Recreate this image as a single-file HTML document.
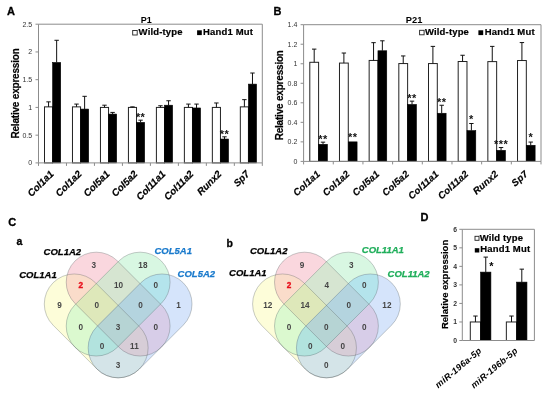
<!DOCTYPE html><html><head><meta charset="utf-8"><style>html,body{margin:0;padding:0;background:#fff;overflow:hidden}svg{display:block;will-change:transform}</style></head><body>
<svg width="550" height="396" viewBox="0 0 550 396" style="font-family:'Liberation Sans', sans-serif">
<text x="7" y="15" style="font:bold 11px 'Liberation Sans', sans-serif;fill:#000;stroke:#000;stroke-width:0.3px">A</text>
<text x="273.5" y="15" style="font:bold 11px 'Liberation Sans', sans-serif;fill:#000;stroke:#000;stroke-width:0.3px">B</text>
<text x="8.3" y="226.3" style="font:bold 11px 'Liberation Sans', sans-serif;fill:#000;stroke:#000;stroke-width:0.3px">C</text>
<text x="420.5" y="221.3" style="font:bold 11px 'Liberation Sans', sans-serif;fill:#000;stroke:#000;stroke-width:0.3px">D</text>
<text x="16.5" y="244.8" style="font:bold 10.5px 'Liberation Sans', sans-serif;fill:#000;stroke:#000;stroke-width:0.3px">a</text>
<text x="226.5" y="247.3" style="font:bold 10.5px 'Liberation Sans', sans-serif;fill:#000;stroke:#000;stroke-width:0.3px">b</text>
<path d="M38.5,24.2 H262.3 V162.9" fill="none" stroke="#8c8c8c" stroke-width="1"/>
<rect x="44.50" y="106.87" width="8.10" height="56.03" fill="#fff" stroke="#222" stroke-width="1"/>
<rect x="52.60" y="62.48" width="8.10" height="100.42" fill="#000" stroke="#000" stroke-width="0.6"/>
<path d="M48.55,106.87 V101.87 M46.35,101.87 H50.75" stroke="#111" stroke-width="1" fill="none"/>
<path d="M56.65,62.48 V40.29 M54.45,40.29 H58.85" stroke="#111" stroke-width="1" fill="none"/>
<rect x="72.47" y="106.87" width="8.10" height="56.03" fill="#fff" stroke="#222" stroke-width="1"/>
<rect x="80.57" y="109.08" width="8.10" height="53.82" fill="#000" stroke="#000" stroke-width="0.6"/>
<path d="M76.52,106.87 V104.09 M74.32,104.09 H78.72" stroke="#111" stroke-width="1" fill="none"/>
<path d="M84.62,109.08 V96.32 M82.42,96.32 H86.82" stroke="#111" stroke-width="1" fill="none"/>
<rect x="100.45" y="107.42" width="8.10" height="55.48" fill="#fff" stroke="#222" stroke-width="1"/>
<rect x="108.55" y="114.08" width="8.10" height="48.82" fill="#000" stroke="#000" stroke-width="0.6"/>
<path d="M104.50,107.42 V105.20 M102.30,105.20 H106.70" stroke="#111" stroke-width="1" fill="none"/>
<path d="M112.60,114.08 V112.41 M110.40,112.41 H114.80" stroke="#111" stroke-width="1" fill="none"/>
<rect x="128.43" y="107.42" width="8.10" height="55.48" fill="#fff" stroke="#222" stroke-width="1"/>
<rect x="136.53" y="122.40" width="8.10" height="40.50" fill="#000" stroke="#000" stroke-width="0.6"/>
<path d="M132.48,107.42 V106.87 M130.28,106.87 H134.68" stroke="#111" stroke-width="1" fill="none"/>
<path d="M140.58,122.40 V120.18 M138.38,120.18 H142.78" stroke="#111" stroke-width="1" fill="none"/>
<rect x="156.40" y="107.42" width="8.10" height="55.48" fill="#fff" stroke="#222" stroke-width="1"/>
<rect x="164.50" y="105.20" width="8.10" height="57.70" fill="#000" stroke="#000" stroke-width="0.6"/>
<path d="M160.45,107.42 V105.76 M158.25,105.76 H162.65" stroke="#111" stroke-width="1" fill="none"/>
<path d="M168.55,105.20 V100.76 M166.35,100.76 H170.75" stroke="#111" stroke-width="1" fill="none"/>
<rect x="184.38" y="107.42" width="8.10" height="55.48" fill="#fff" stroke="#222" stroke-width="1"/>
<rect x="192.47" y="107.97" width="8.10" height="54.93" fill="#000" stroke="#000" stroke-width="0.6"/>
<path d="M188.43,107.42 V104.09 M186.23,104.09 H190.62" stroke="#111" stroke-width="1" fill="none"/>
<path d="M196.53,107.97 V104.09 M194.33,104.09 H198.72" stroke="#111" stroke-width="1" fill="none"/>
<rect x="212.35" y="107.42" width="8.10" height="55.48" fill="#fff" stroke="#222" stroke-width="1"/>
<rect x="220.45" y="139.04" width="8.10" height="23.86" fill="#000" stroke="#000" stroke-width="0.6"/>
<path d="M216.40,107.42 V102.98 M214.20,102.98 H218.60" stroke="#111" stroke-width="1" fill="none"/>
<path d="M224.50,139.04 V136.82 M222.30,136.82 H226.70" stroke="#111" stroke-width="1" fill="none"/>
<rect x="240.33" y="106.87" width="8.10" height="56.03" fill="#fff" stroke="#222" stroke-width="1"/>
<rect x="248.43" y="84.12" width="8.10" height="78.78" fill="#000" stroke="#000" stroke-width="0.6"/>
<path d="M244.38,106.87 V99.65 M242.18,99.65 H246.58" stroke="#111" stroke-width="1" fill="none"/>
<path d="M252.48,84.12 V73.02 M250.28,73.02 H254.68" stroke="#111" stroke-width="1" fill="none"/>
<path d="M38.5,24.2 V162.9 H262.3" fill="none" stroke="#8c8c8c" stroke-width="1"/>
<path d="M35.5,162.90 H38.5" stroke="#8c8c8c" stroke-width="1"/>
<text x="32.2" y="165.30" text-anchor="end" style="font:7px 'Liberation Sans', sans-serif;fill:#333">0</text>
<path d="M35.5,135.16 H38.5" stroke="#8c8c8c" stroke-width="1"/>
<text x="32.2" y="137.56" text-anchor="end" style="font:7px 'Liberation Sans', sans-serif;fill:#333">0.5</text>
<path d="M35.5,107.42 H38.5" stroke="#8c8c8c" stroke-width="1"/>
<text x="32.2" y="109.82" text-anchor="end" style="font:7px 'Liberation Sans', sans-serif;fill:#333">1</text>
<path d="M35.5,79.68 H38.5" stroke="#8c8c8c" stroke-width="1"/>
<text x="32.2" y="82.08" text-anchor="end" style="font:7px 'Liberation Sans', sans-serif;fill:#333">1.5</text>
<path d="M35.5,51.94 H38.5" stroke="#8c8c8c" stroke-width="1"/>
<text x="32.2" y="54.34" text-anchor="end" style="font:7px 'Liberation Sans', sans-serif;fill:#333">2</text>
<path d="M35.5,24.20 H38.5" stroke="#8c8c8c" stroke-width="1"/>
<text x="32.2" y="26.60" text-anchor="end" style="font:7px 'Liberation Sans', sans-serif;fill:#333">2.5</text>
<path d="M38.50,162.9 V165.9" stroke="#8c8c8c" stroke-width="1"/>
<path d="M66.47,162.9 V165.9" stroke="#8c8c8c" stroke-width="1"/>
<path d="M94.45,162.9 V165.9" stroke="#8c8c8c" stroke-width="1"/>
<path d="M122.43,162.9 V165.9" stroke="#8c8c8c" stroke-width="1"/>
<path d="M150.40,162.9 V165.9" stroke="#8c8c8c" stroke-width="1"/>
<path d="M178.38,162.9 V165.9" stroke="#8c8c8c" stroke-width="1"/>
<path d="M206.35,162.9 V165.9" stroke="#8c8c8c" stroke-width="1"/>
<path d="M234.33,162.9 V165.9" stroke="#8c8c8c" stroke-width="1"/>
<path d="M262.30,162.9 V165.9" stroke="#8c8c8c" stroke-width="1"/>
<text x="140.58" y="120.70" text-anchor="middle" style="font:bold 11px 'Liberation Sans', sans-serif;fill:#111;letter-spacing:0.4px">**</text>
<text x="224.50" y="138.40" text-anchor="middle" style="font:bold 11px 'Liberation Sans', sans-serif;fill:#111;letter-spacing:0.4px">**</text>
<text x="146.2" y="22.8" text-anchor="middle" style="font:bold 9px 'Liberation Sans', sans-serif">P1</text>
<rect x="132.7" y="30.5" width="4.5" height="4.5" fill="#fff" stroke="#222" stroke-width="0.9"/>
<text x="138.6" y="35.3" style="font:bold 9.5px 'Liberation Sans', sans-serif;fill:#000;letter-spacing:0.15px;stroke:#000;stroke-width:0.2px">Wild-type</text>
<rect x="197.1" y="30.3" width="4.7" height="4.8" fill="#000"/>
<text x="203.1" y="35.3" style="font:bold 9.5px 'Liberation Sans', sans-serif;fill:#000;letter-spacing:0.15px;stroke:#000;stroke-width:0.2px">Hand1 Mut</text>
<text transform="translate(18.8,93.5) rotate(-90)" text-anchor="middle" style="font:bold 10px 'Liberation Sans', sans-serif;letter-spacing:-0.2px;stroke:#000;stroke-width:0.2px">Relative expression</text>
<text transform="translate(54.29,174.6) rotate(-45)" text-anchor="end" style="font:italic bold 9.8px 'Liberation Sans', sans-serif;stroke:#000;stroke-width:0.2px">Col1a1</text>
<text transform="translate(82.26,174.6) rotate(-45)" text-anchor="end" style="font:italic bold 9.8px 'Liberation Sans', sans-serif;stroke:#000;stroke-width:0.2px">Col1a2</text>
<text transform="translate(110.24,174.6) rotate(-45)" text-anchor="end" style="font:italic bold 9.8px 'Liberation Sans', sans-serif;stroke:#000;stroke-width:0.2px">Col5a1</text>
<text transform="translate(138.21,174.6) rotate(-45)" text-anchor="end" style="font:italic bold 9.8px 'Liberation Sans', sans-serif;stroke:#000;stroke-width:0.2px">Col5a2</text>
<text transform="translate(166.19,174.6) rotate(-45)" text-anchor="end" style="font:italic bold 9.8px 'Liberation Sans', sans-serif;stroke:#000;stroke-width:0.2px">Col11a1</text>
<text transform="translate(194.16,174.6) rotate(-45)" text-anchor="end" style="font:italic bold 9.8px 'Liberation Sans', sans-serif;stroke:#000;stroke-width:0.2px">Col11a2</text>
<text transform="translate(222.14,174.6) rotate(-45)" text-anchor="end" style="font:italic bold 9.8px 'Liberation Sans', sans-serif;stroke:#000;stroke-width:0.2px">Runx2</text>
<text transform="translate(250.11,174.6) rotate(-45)" text-anchor="end" style="font:italic bold 9.8px 'Liberation Sans', sans-serif;stroke:#000;stroke-width:0.2px">Sp7</text>
<path d="M303.6,24.7 H541.0 V161.4" fill="none" stroke="#8c8c8c" stroke-width="1"/>
<rect x="309.80" y="62.29" width="8.80" height="99.11" fill="#fff" stroke="#222" stroke-width="1"/>
<rect x="318.60" y="144.31" width="8.80" height="17.09" fill="#000" stroke="#000" stroke-width="0.6"/>
<path d="M314.20,62.29 V49.11 M312.00,49.11 H316.40" stroke="#111" stroke-width="1" fill="none"/>
<path d="M323.00,144.31 V142.16 M320.80,142.16 H325.20" stroke="#111" stroke-width="1" fill="none"/>
<rect x="339.48" y="63.07" width="8.80" height="98.33" fill="#fff" stroke="#222" stroke-width="1"/>
<rect x="348.28" y="141.87" width="8.80" height="19.53" fill="#000" stroke="#000" stroke-width="0.6"/>
<path d="M343.88,63.07 V53.02 M341.68,53.02 H346.07" stroke="#111" stroke-width="1" fill="none"/>
<rect x="369.15" y="60.44" width="8.80" height="100.96" fill="#fff" stroke="#222" stroke-width="1"/>
<rect x="377.95" y="50.77" width="8.80" height="110.63" fill="#000" stroke="#000" stroke-width="0.6"/>
<path d="M373.55,60.44 V42.67 M371.35,42.67 H375.75" stroke="#111" stroke-width="1" fill="none"/>
<path d="M382.35,50.77 V40.81 M380.15,40.81 H384.55" stroke="#111" stroke-width="1" fill="none"/>
<rect x="398.82" y="63.56" width="8.80" height="97.84" fill="#fff" stroke="#222" stroke-width="1"/>
<rect x="407.62" y="104.47" width="8.80" height="56.93" fill="#000" stroke="#000" stroke-width="0.6"/>
<path d="M403.22,63.56 V55.95 M401.02,55.95 H405.42" stroke="#111" stroke-width="1" fill="none"/>
<path d="M412.02,104.47 V101.15 M409.82,101.15 H414.22" stroke="#111" stroke-width="1" fill="none"/>
<rect x="428.50" y="63.56" width="8.80" height="97.84" fill="#fff" stroke="#222" stroke-width="1"/>
<rect x="437.30" y="113.26" width="8.80" height="48.14" fill="#000" stroke="#000" stroke-width="0.6"/>
<path d="M432.90,63.56 V46.38 M430.70,46.38 H435.10" stroke="#111" stroke-width="1" fill="none"/>
<path d="M441.70,113.26 V105.26 M439.50,105.26 H443.90" stroke="#111" stroke-width="1" fill="none"/>
<rect x="458.18" y="61.51" width="8.80" height="99.89" fill="#fff" stroke="#222" stroke-width="1"/>
<rect x="466.98" y="130.64" width="8.80" height="30.76" fill="#000" stroke="#000" stroke-width="0.6"/>
<path d="M462.57,61.51 V55.26 M460.38,55.26 H464.77" stroke="#111" stroke-width="1" fill="none"/>
<path d="M471.38,130.64 V123.51 M469.18,123.51 H473.57" stroke="#111" stroke-width="1" fill="none"/>
<rect x="487.85" y="61.61" width="8.80" height="99.79" fill="#fff" stroke="#222" stroke-width="1"/>
<rect x="496.65" y="150.37" width="8.80" height="11.03" fill="#000" stroke="#000" stroke-width="0.6"/>
<path d="M492.25,61.61 V46.38 M490.05,46.38 H494.45" stroke="#111" stroke-width="1" fill="none"/>
<path d="M501.05,150.37 V147.53 M498.85,147.53 H503.25" stroke="#111" stroke-width="1" fill="none"/>
<rect x="517.52" y="60.53" width="8.80" height="100.87" fill="#fff" stroke="#222" stroke-width="1"/>
<rect x="526.32" y="145.29" width="8.80" height="16.11" fill="#000" stroke="#000" stroke-width="0.6"/>
<path d="M521.92,60.53 V42.57 M519.72,42.57 H524.12" stroke="#111" stroke-width="1" fill="none"/>
<path d="M530.72,145.29 V142.07 M528.52,142.07 H532.92" stroke="#111" stroke-width="1" fill="none"/>
<path d="M303.6,24.7 V161.4 H541.0" fill="none" stroke="#8c8c8c" stroke-width="1"/>
<path d="M300.6,161.40 H303.6" stroke="#8c8c8c" stroke-width="1"/>
<text x="297.3" y="163.80" text-anchor="end" style="font:7px 'Liberation Sans', sans-serif;fill:#333">0</text>
<path d="M300.6,141.87 H303.6" stroke="#8c8c8c" stroke-width="1"/>
<text x="297.3" y="144.27" text-anchor="end" style="font:7px 'Liberation Sans', sans-serif;fill:#333">0.2</text>
<path d="M300.6,122.34 H303.6" stroke="#8c8c8c" stroke-width="1"/>
<text x="297.3" y="124.74" text-anchor="end" style="font:7px 'Liberation Sans', sans-serif;fill:#333">0.4</text>
<path d="M300.6,102.81 H303.6" stroke="#8c8c8c" stroke-width="1"/>
<text x="297.3" y="105.21" text-anchor="end" style="font:7px 'Liberation Sans', sans-serif;fill:#333">0.6</text>
<path d="M300.6,83.29 H303.6" stroke="#8c8c8c" stroke-width="1"/>
<text x="297.3" y="85.69" text-anchor="end" style="font:7px 'Liberation Sans', sans-serif;fill:#333">0.8</text>
<path d="M300.6,63.76 H303.6" stroke="#8c8c8c" stroke-width="1"/>
<text x="297.3" y="66.16" text-anchor="end" style="font:7px 'Liberation Sans', sans-serif;fill:#333">1</text>
<path d="M300.6,44.23 H303.6" stroke="#8c8c8c" stroke-width="1"/>
<text x="297.3" y="46.63" text-anchor="end" style="font:7px 'Liberation Sans', sans-serif;fill:#333">1.2</text>
<path d="M300.6,24.70 H303.6" stroke="#8c8c8c" stroke-width="1"/>
<text x="297.3" y="27.10" text-anchor="end" style="font:7px 'Liberation Sans', sans-serif;fill:#333">1.4</text>
<path d="M303.60,161.4 V164.4" stroke="#8c8c8c" stroke-width="1"/>
<path d="M333.28,161.4 V164.4" stroke="#8c8c8c" stroke-width="1"/>
<path d="M362.95,161.4 V164.4" stroke="#8c8c8c" stroke-width="1"/>
<path d="M392.62,161.4 V164.4" stroke="#8c8c8c" stroke-width="1"/>
<path d="M422.30,161.4 V164.4" stroke="#8c8c8c" stroke-width="1"/>
<path d="M451.98,161.4 V164.4" stroke="#8c8c8c" stroke-width="1"/>
<path d="M481.65,161.4 V164.4" stroke="#8c8c8c" stroke-width="1"/>
<path d="M511.32,161.4 V164.4" stroke="#8c8c8c" stroke-width="1"/>
<path d="M541.00,161.4 V164.4" stroke="#8c8c8c" stroke-width="1"/>
<text x="323.00" y="143.40" text-anchor="middle" style="font:bold 11px 'Liberation Sans', sans-serif;fill:#111;letter-spacing:0.4px">**</text>
<text x="352.68" y="140.80" text-anchor="middle" style="font:bold 11px 'Liberation Sans', sans-serif;fill:#111;letter-spacing:0.4px">**</text>
<text x="412.02" y="101.70" text-anchor="middle" style="font:bold 11px 'Liberation Sans', sans-serif;fill:#111;letter-spacing:0.4px">**</text>
<text x="441.70" y="105.80" text-anchor="middle" style="font:bold 11px 'Liberation Sans', sans-serif;fill:#111;letter-spacing:0.4px">**</text>
<text x="471.38" y="122.70" text-anchor="middle" style="font:bold 11px 'Liberation Sans', sans-serif;fill:#111;letter-spacing:0.4px">*</text>
<text x="501.05" y="148.10" text-anchor="middle" style="font:bold 11px 'Liberation Sans', sans-serif;fill:#111;letter-spacing:0.4px">***</text>
<text x="530.73" y="140.50" text-anchor="middle" style="font:bold 11px 'Liberation Sans', sans-serif;fill:#111;letter-spacing:0.4px">*</text>
<text x="414.1" y="22.9" text-anchor="middle" style="font:bold 9.3px 'Liberation Sans', sans-serif">P21</text>
<rect x="419.6" y="30.3" width="4.5" height="4.5" fill="#fff" stroke="#222" stroke-width="0.9"/>
<text x="425" y="35.3" style="font:bold 9.5px 'Liberation Sans', sans-serif;fill:#000;letter-spacing:0.15px;stroke:#000;stroke-width:0.2px">Wild-type</text>
<rect x="478.4" y="30.3" width="4.8" height="4.8" fill="#000"/>
<text x="484.8" y="35.3" style="font:bold 9.5px 'Liberation Sans', sans-serif;fill:#000;letter-spacing:0.15px;stroke:#000;stroke-width:0.2px">Hand1 Mut</text>
<text transform="translate(283.2,95.3) rotate(-90)" text-anchor="middle" style="font:bold 10px 'Liberation Sans', sans-serif;letter-spacing:-0.2px;stroke:#000;stroke-width:0.2px">Relative expression</text>
<text transform="translate(320.74,174.8) rotate(-42)" text-anchor="end" style="font:italic bold 9.6px 'Liberation Sans', sans-serif;letter-spacing:0.15px;stroke:#000;stroke-width:0.2px">Col1a1</text>
<text transform="translate(350.41,174.8) rotate(-42)" text-anchor="end" style="font:italic bold 9.6px 'Liberation Sans', sans-serif;letter-spacing:0.15px;stroke:#000;stroke-width:0.2px">Col1a2</text>
<text transform="translate(380.09,174.8) rotate(-42)" text-anchor="end" style="font:italic bold 9.6px 'Liberation Sans', sans-serif;letter-spacing:0.15px;stroke:#000;stroke-width:0.2px">Col5a1</text>
<text transform="translate(409.76,174.8) rotate(-42)" text-anchor="end" style="font:italic bold 9.6px 'Liberation Sans', sans-serif;letter-spacing:0.15px;stroke:#000;stroke-width:0.2px">Col5a2</text>
<text transform="translate(439.44,174.8) rotate(-42)" text-anchor="end" style="font:italic bold 9.6px 'Liberation Sans', sans-serif;letter-spacing:0.15px;stroke:#000;stroke-width:0.2px">Col11a1</text>
<text transform="translate(469.11,174.8) rotate(-42)" text-anchor="end" style="font:italic bold 9.6px 'Liberation Sans', sans-serif;letter-spacing:0.15px;stroke:#000;stroke-width:0.2px">Col11a2</text>
<text transform="translate(498.79,174.8) rotate(-42)" text-anchor="end" style="font:italic bold 9.6px 'Liberation Sans', sans-serif;letter-spacing:0.15px;stroke:#000;stroke-width:0.2px">Runx2</text>
<text transform="translate(528.46,174.8) rotate(-42)" text-anchor="end" style="font:italic bold 9.6px 'Liberation Sans', sans-serif;letter-spacing:0.15px;stroke:#000;stroke-width:0.2px">Sp7</text>
<path d="M462.3,229.3 H534.4 V340.5" fill="none" stroke="#8c8c8c" stroke-width="1"/>
<rect x="470.30" y="321.97" width="10.30" height="18.53" fill="#fff" stroke="#222" stroke-width="1"/>
<rect x="480.60" y="272.11" width="10.30" height="68.39" fill="#000" stroke="#000" stroke-width="0.6"/>
<path d="M475.45,321.97 V316.04 M473.25,316.04 H477.65" stroke="#111" stroke-width="1" fill="none"/>
<path d="M485.75,272.11 V257.10 M483.55,257.10 H487.95" stroke="#111" stroke-width="1" fill="none"/>
<rect x="506.35" y="321.97" width="10.30" height="18.53" fill="#fff" stroke="#222" stroke-width="1"/>
<rect x="516.65" y="282.12" width="10.30" height="58.38" fill="#000" stroke="#000" stroke-width="0.6"/>
<path d="M511.50,321.97 V316.04 M509.30,316.04 H513.70" stroke="#111" stroke-width="1" fill="none"/>
<path d="M521.80,282.12 V269.15 M519.60,269.15 H524.00" stroke="#111" stroke-width="1" fill="none"/>
<path d="M462.3,229.3 V340.5 H534.4" fill="none" stroke="#8c8c8c" stroke-width="1"/>
<path d="M459.3,340.50 H462.3" stroke="#8c8c8c" stroke-width="1"/>
<text x="457.0" y="342.90" text-anchor="end" style="font:bold 6.8px 'Liberation Sans', sans-serif;fill:#333">0</text>
<path d="M459.3,321.97 H462.3" stroke="#8c8c8c" stroke-width="1"/>
<text x="457.0" y="324.37" text-anchor="end" style="font:bold 6.8px 'Liberation Sans', sans-serif;fill:#333">1</text>
<path d="M459.3,303.43 H462.3" stroke="#8c8c8c" stroke-width="1"/>
<text x="457.0" y="305.83" text-anchor="end" style="font:bold 6.8px 'Liberation Sans', sans-serif;fill:#333">2</text>
<path d="M459.3,284.90 H462.3" stroke="#8c8c8c" stroke-width="1"/>
<text x="457.0" y="287.30" text-anchor="end" style="font:bold 6.8px 'Liberation Sans', sans-serif;fill:#333">3</text>
<path d="M459.3,266.37 H462.3" stroke="#8c8c8c" stroke-width="1"/>
<text x="457.0" y="268.77" text-anchor="end" style="font:bold 6.8px 'Liberation Sans', sans-serif;fill:#333">4</text>
<path d="M459.3,247.83 H462.3" stroke="#8c8c8c" stroke-width="1"/>
<text x="457.0" y="250.23" text-anchor="end" style="font:bold 6.8px 'Liberation Sans', sans-serif;fill:#333">5</text>
<path d="M459.3,229.30 H462.3" stroke="#8c8c8c" stroke-width="1"/>
<text x="457.0" y="231.70" text-anchor="end" style="font:bold 6.8px 'Liberation Sans', sans-serif;fill:#333">6</text>
<text x="491.3" y="270.3" text-anchor="middle" style="font:bold 11px 'Liberation Sans', sans-serif">*</text>
<rect x="475" y="236.3" width="4" height="4" fill="#fff" stroke="#222" stroke-width="0.9"/>
<text x="479.7" y="240.6" style="font:bold 9.5px 'Liberation Sans', sans-serif;fill:#000;letter-spacing:0.15px;stroke:#000;stroke-width:0.2px">Wild type</text>
<rect x="474.8" y="248.2" width="4.5" height="4.3" fill="#000"/>
<text x="480.3" y="252.4" style="font:bold 9.5px 'Liberation Sans', sans-serif;fill:#000;letter-spacing:0.15px;stroke:#000;stroke-width:0.2px">Hand1 Mut</text>
<text transform="translate(447.6,284.4) rotate(-90)" text-anchor="middle" style="font:bold 9.5px 'Liberation Sans', sans-serif;stroke:#000;stroke-width:0.2px">Relative expression</text>
<text transform="translate(482.32,351.6) rotate(-40)" text-anchor="end" style="font:italic bold 9px 'Liberation Sans', sans-serif;letter-spacing:0.35px">miR-196a-5p</text>
<text transform="translate(518.38,351.6) rotate(-40)" text-anchor="end" style="font:italic bold 9px 'Liberation Sans', sans-serif;letter-spacing:0.35px">miR-196b-5p</text>
<defs>
<rect id="v1Y" x="35.21" y="295.90" width="122.03" height="60.00" rx="30.0" ry="30.0" transform="rotate(45 96.22 325.90)"/>
<clipPath id="v1cY"><use href="#v1Y"/></clipPath>
<rect id="v1P" x="57.14" y="274.10" width="122.03" height="60.00" rx="30.0" ry="30.0" transform="rotate(45 118.15 304.10)"/>
<clipPath id="v1cP"><use href="#v1P"/></clipPath>
<rect id="v1G" x="57.14" y="274.10" width="122.03" height="60.00" rx="30.0" ry="30.0" transform="rotate(-45 118.15 304.10)"/>
<clipPath id="v1cG"><use href="#v1G"/></clipPath>
<rect id="v1B" x="79.07" y="295.90" width="122.03" height="60.00" rx="30.0" ry="30.0" transform="rotate(-45 140.08 325.90)"/>
<clipPath id="v1cB"><use href="#v1B"/></clipPath>
</defs>
<use href="#v1Y" fill="rgb(253,253,217)"/>
<use href="#v1P" fill="rgb(250,215,222)"/>
<use href="#v1G" fill="rgb(216,247,226)"/>
<use href="#v1B" fill="rgb(213,228,251)"/>
<g clip-path="url(#v1cY)"><use href="#v1P" fill="rgb(250,220,202)"/></g>
<g clip-path="url(#v1cY)"><use href="#v1G" fill="rgb(219,249,207)"/></g>
<g clip-path="url(#v1cY)"><use href="#v1B" fill="rgb(212,228,232)"/></g>
<g clip-path="url(#v1cP)"><use href="#v1G" fill="rgb(214,229,209)"/></g>
<g clip-path="url(#v1cP)"><use href="#v1B" fill="rgb(215,205,232)"/></g>
<g clip-path="url(#v1cG)"><use href="#v1B" fill="rgb(180,228,236)"/></g>
<g clip-path="url(#v1cP)"><g clip-path="url(#v1cY)"><use href="#v1G" fill="rgb(222,232,186)"/></g></g>
<g clip-path="url(#v1cP)"><g clip-path="url(#v1cY)"><use href="#v1B" fill="rgb(215,205,215)"/></g></g>
<g clip-path="url(#v1cG)"><g clip-path="url(#v1cY)"><use href="#v1B" fill="rgb(178,227,222)"/></g></g>
<g clip-path="url(#v1cG)"><g clip-path="url(#v1cP)"><use href="#v1B" fill="rgb(180,212,223)"/></g></g>
<g clip-path="url(#v1cG)"><g clip-path="url(#v1cP)"><g clip-path="url(#v1cY)"><use href="#v1B" fill="rgb(182,212,212)"/></g></g></g>
<use href="#v1Y" fill="none" stroke="rgba(80,90,90,0.33)" stroke-width="0.9"/>
<use href="#v1P" fill="none" stroke="rgba(80,90,90,0.33)" stroke-width="0.9"/>
<use href="#v1G" fill="none" stroke="rgba(80,90,90,0.33)" stroke-width="0.9"/>
<use href="#v1B" fill="none" stroke="rgba(80,90,90,0.33)" stroke-width="0.9"/>
<text x="93.80" y="267.80" text-anchor="middle" style="font:bold 8.2px 'Liberation Sans', sans-serif;fill:#464646">3</text>
<text x="142.90" y="267.80" text-anchor="middle" style="font:bold 8.2px 'Liberation Sans', sans-serif;fill:#464646">18</text>
<text x="80.80" y="288.10" text-anchor="middle" style="font:bold 8.2px 'Liberation Sans', sans-serif;fill:#e8101c;stroke:#e8101c;stroke-width:0.35px">2</text>
<text x="118.60" y="288.10" text-anchor="middle" style="font:bold 8.2px 'Liberation Sans', sans-serif;fill:#464646">10</text>
<text x="155.90" y="288.10" text-anchor="middle" style="font:bold 8.2px 'Liberation Sans', sans-serif;fill:#464646">0</text>
<text x="59.50" y="307.80" text-anchor="middle" style="font:bold 8.2px 'Liberation Sans', sans-serif;fill:#464646">9</text>
<text x="96.80" y="307.80" text-anchor="middle" style="font:bold 8.2px 'Liberation Sans', sans-serif;fill:#464646">0</text>
<text x="140.50" y="307.80" text-anchor="middle" style="font:bold 8.2px 'Liberation Sans', sans-serif;fill:#464646">0</text>
<text x="178.60" y="307.80" text-anchor="middle" style="font:bold 8.2px 'Liberation Sans', sans-serif;fill:#464646">1</text>
<text x="80.80" y="329.60" text-anchor="middle" style="font:bold 8.2px 'Liberation Sans', sans-serif;fill:#464646">0</text>
<text x="118.00" y="329.60" text-anchor="middle" style="font:bold 8.2px 'Liberation Sans', sans-serif;fill:#464646">3</text>
<text x="155.90" y="329.60" text-anchor="middle" style="font:bold 8.2px 'Liberation Sans', sans-serif;fill:#464646">0</text>
<text x="102.00" y="348.70" text-anchor="middle" style="font:bold 8.2px 'Liberation Sans', sans-serif;fill:#464646">0</text>
<text x="134.40" y="348.70" text-anchor="middle" style="font:bold 8.2px 'Liberation Sans', sans-serif;fill:#464646">11</text>
<text x="118.00" y="368.40" text-anchor="middle" style="font:bold 8.2px 'Liberation Sans', sans-serif;fill:#464646">3</text>
<text x="43.60" y="254.70" style="font:italic bold 9.5px 'Liberation Sans', sans-serif;fill:#000;stroke:#000;stroke-width:0.25px">COL1A2</text>
<text x="19.20" y="278.10" style="font:italic bold 9.5px 'Liberation Sans', sans-serif;fill:#000;stroke:#000;stroke-width:0.25px">COL1A1</text>
<text x="154.50" y="253.60" style="font:italic bold 9.5px 'Liberation Sans', sans-serif;fill:#1a7acc;stroke:#1a7acc;stroke-width:0.25px">COL5A1</text>
<text x="177.60" y="276.90" style="font:italic bold 9.5px 'Liberation Sans', sans-serif;fill:#1a7acc;stroke:#1a7acc;stroke-width:0.25px">COL5A2</text>
<defs>
<rect id="v2Y" x="243.51" y="295.90" width="122.03" height="60.00" rx="30.0" ry="30.0" transform="rotate(45 304.52 325.90)"/>
<clipPath id="v2cY"><use href="#v2Y"/></clipPath>
<rect id="v2P" x="265.44" y="274.10" width="122.03" height="60.00" rx="30.0" ry="30.0" transform="rotate(45 326.45 304.10)"/>
<clipPath id="v2cP"><use href="#v2P"/></clipPath>
<rect id="v2G" x="265.44" y="274.10" width="122.03" height="60.00" rx="30.0" ry="30.0" transform="rotate(-45 326.45 304.10)"/>
<clipPath id="v2cG"><use href="#v2G"/></clipPath>
<rect id="v2B" x="287.37" y="295.90" width="122.03" height="60.00" rx="30.0" ry="30.0" transform="rotate(-45 348.38 325.90)"/>
<clipPath id="v2cB"><use href="#v2B"/></clipPath>
</defs>
<use href="#v2Y" fill="rgb(253,253,217)"/>
<use href="#v2P" fill="rgb(250,215,222)"/>
<use href="#v2G" fill="rgb(216,247,226)"/>
<use href="#v2B" fill="rgb(213,228,251)"/>
<g clip-path="url(#v2cY)"><use href="#v2P" fill="rgb(250,220,202)"/></g>
<g clip-path="url(#v2cY)"><use href="#v2G" fill="rgb(219,249,207)"/></g>
<g clip-path="url(#v2cY)"><use href="#v2B" fill="rgb(212,228,232)"/></g>
<g clip-path="url(#v2cP)"><use href="#v2G" fill="rgb(214,229,209)"/></g>
<g clip-path="url(#v2cP)"><use href="#v2B" fill="rgb(215,205,232)"/></g>
<g clip-path="url(#v2cG)"><use href="#v2B" fill="rgb(180,228,236)"/></g>
<g clip-path="url(#v2cP)"><g clip-path="url(#v2cY)"><use href="#v2G" fill="rgb(222,232,186)"/></g></g>
<g clip-path="url(#v2cP)"><g clip-path="url(#v2cY)"><use href="#v2B" fill="rgb(215,205,215)"/></g></g>
<g clip-path="url(#v2cG)"><g clip-path="url(#v2cY)"><use href="#v2B" fill="rgb(178,227,222)"/></g></g>
<g clip-path="url(#v2cG)"><g clip-path="url(#v2cP)"><use href="#v2B" fill="rgb(180,212,223)"/></g></g>
<g clip-path="url(#v2cG)"><g clip-path="url(#v2cP)"><g clip-path="url(#v2cY)"><use href="#v2B" fill="rgb(182,212,212)"/></g></g></g>
<use href="#v2Y" fill="none" stroke="rgba(80,90,90,0.33)" stroke-width="0.9"/>
<use href="#v2P" fill="none" stroke="rgba(80,90,90,0.33)" stroke-width="0.9"/>
<use href="#v2G" fill="none" stroke="rgba(80,90,90,0.33)" stroke-width="0.9"/>
<use href="#v2B" fill="none" stroke="rgba(80,90,90,0.33)" stroke-width="0.9"/>
<text x="302.10" y="267.80" text-anchor="middle" style="font:bold 8.2px 'Liberation Sans', sans-serif;fill:#464646">9</text>
<text x="351.20" y="267.80" text-anchor="middle" style="font:bold 8.2px 'Liberation Sans', sans-serif;fill:#464646">3</text>
<text x="289.10" y="288.10" text-anchor="middle" style="font:bold 8.2px 'Liberation Sans', sans-serif;fill:#e8101c;stroke:#e8101c;stroke-width:0.35px">2</text>
<text x="326.90" y="288.10" text-anchor="middle" style="font:bold 8.2px 'Liberation Sans', sans-serif;fill:#464646">4</text>
<text x="364.20" y="288.10" text-anchor="middle" style="font:bold 8.2px 'Liberation Sans', sans-serif;fill:#464646">0</text>
<text x="267.80" y="307.80" text-anchor="middle" style="font:bold 8.2px 'Liberation Sans', sans-serif;fill:#464646">12</text>
<text x="305.10" y="307.80" text-anchor="middle" style="font:bold 8.2px 'Liberation Sans', sans-serif;fill:#464646">14</text>
<text x="348.80" y="307.80" text-anchor="middle" style="font:bold 8.2px 'Liberation Sans', sans-serif;fill:#464646">0</text>
<text x="386.90" y="307.80" text-anchor="middle" style="font:bold 8.2px 'Liberation Sans', sans-serif;fill:#464646">12</text>
<text x="289.10" y="329.60" text-anchor="middle" style="font:bold 8.2px 'Liberation Sans', sans-serif;fill:#464646">0</text>
<text x="326.30" y="329.60" text-anchor="middle" style="font:bold 8.2px 'Liberation Sans', sans-serif;fill:#464646">0</text>
<text x="364.20" y="329.60" text-anchor="middle" style="font:bold 8.2px 'Liberation Sans', sans-serif;fill:#464646">0</text>
<text x="310.30" y="348.70" text-anchor="middle" style="font:bold 8.2px 'Liberation Sans', sans-serif;fill:#464646">0</text>
<text x="342.70" y="348.70" text-anchor="middle" style="font:bold 8.2px 'Liberation Sans', sans-serif;fill:#464646">0</text>
<text x="326.30" y="368.40" text-anchor="middle" style="font:bold 8.2px 'Liberation Sans', sans-serif;fill:#464646">0</text>
<text x="250.00" y="254.00" style="font:italic bold 9.5px 'Liberation Sans', sans-serif;fill:#000;stroke:#000;stroke-width:0.25px">COL1A2</text>
<text x="229.10" y="276.40" style="font:italic bold 9.5px 'Liberation Sans', sans-serif;fill:#000;stroke:#000;stroke-width:0.25px">COL1A1</text>
<text x="361.80" y="253.30" style="font:italic bold 9.5px 'Liberation Sans', sans-serif;fill:#1fae5a;stroke:#1fae5a;stroke-width:0.25px">COL11A1</text>
<text x="387.60" y="276.90" style="font:italic bold 9.5px 'Liberation Sans', sans-serif;fill:#1fae5a;stroke:#1fae5a;stroke-width:0.25px">COL11A2</text>
</svg></body></html>
